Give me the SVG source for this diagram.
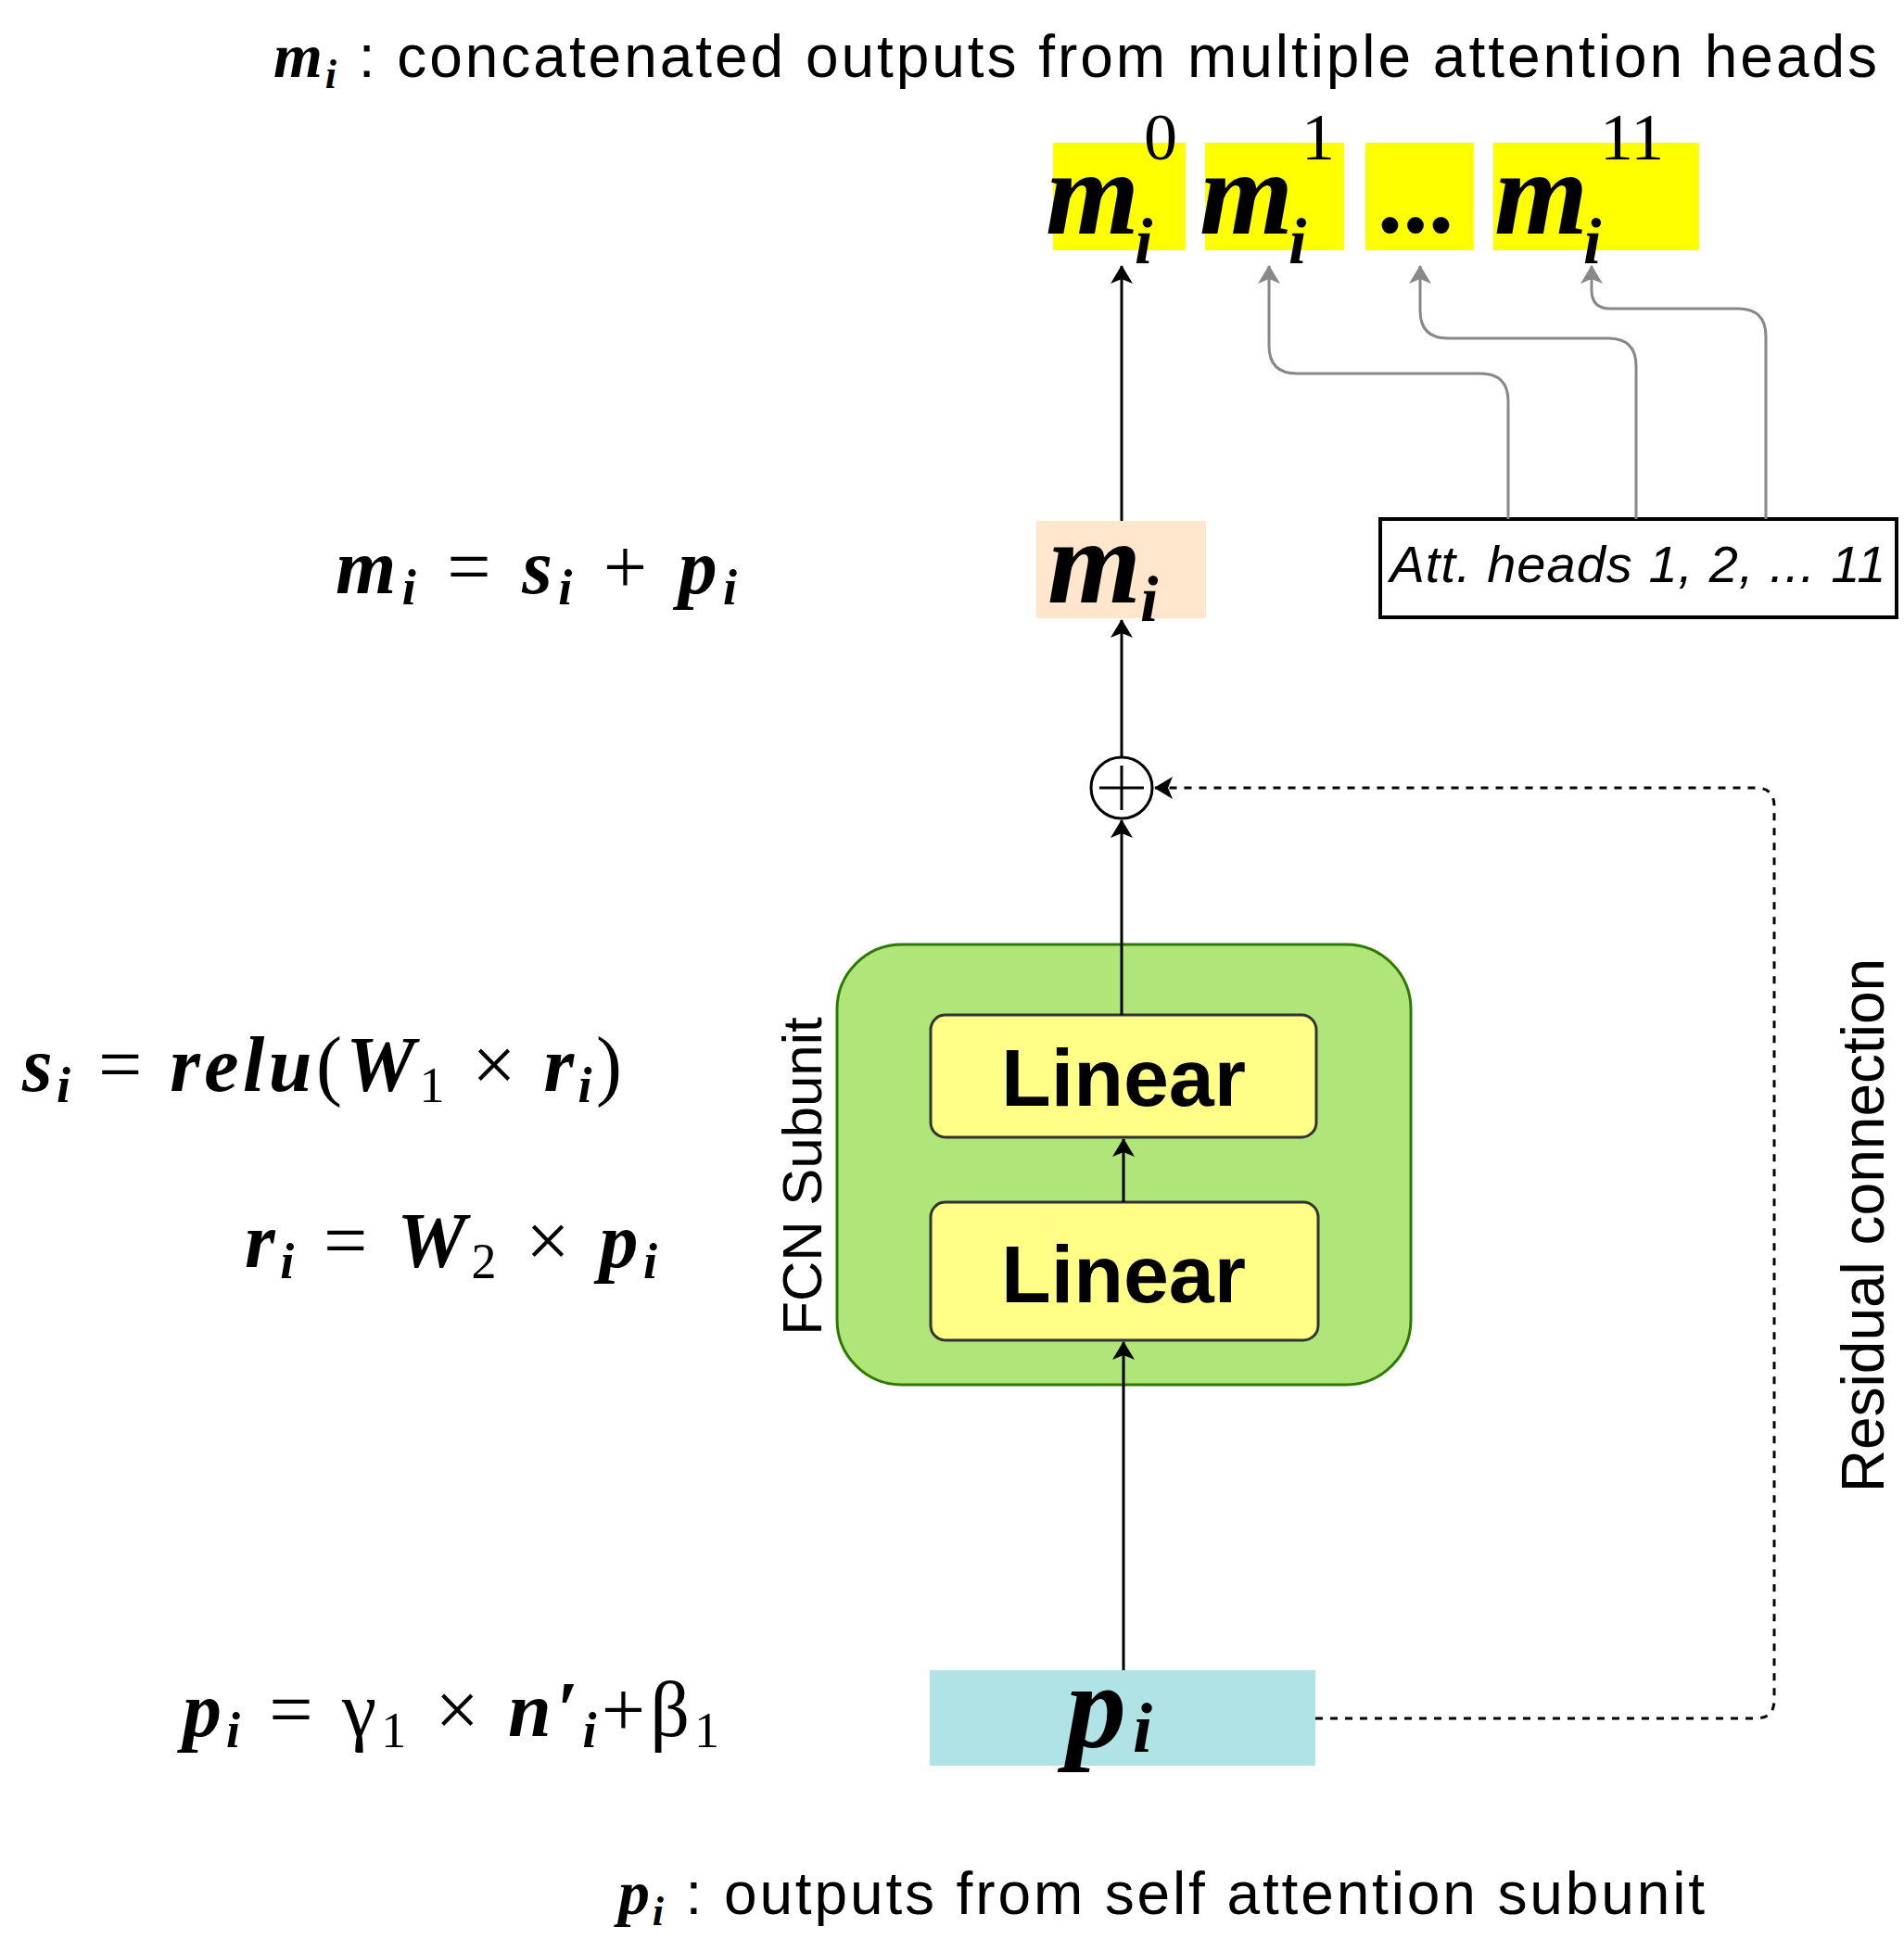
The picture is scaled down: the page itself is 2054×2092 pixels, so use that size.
<svg xmlns="http://www.w3.org/2000/svg" width="2054" height="2092" viewBox="0 0 2054 2092">
<style>
.m{font-family:"Liberation Serif",serif;font-style:italic;font-weight:bold;fill:#000}
.r{font-family:"Liberation Serif",serif;font-style:normal;font-weight:normal}
.s{font-family:"Liberation Sans",Arial,sans-serif;fill:#000}
.blk{stroke:#000;stroke-width:3;fill:none}
.gry{stroke:#888;stroke-width:3;fill:none}
</style>
<defs>
<marker id="ab" markerWidth="20" markerHeight="24" refX="19" refY="12" orient="auto" markerUnits="userSpaceOnUse" viewBox="0 0 20 24"><path d="M0,0 L20,12 L0,24 L5,12 Z" fill="#000"/></marker>
<marker id="ag" markerWidth="20" markerHeight="24" refX="19" refY="12" orient="auto" markerUnits="userSpaceOnUse" viewBox="0 0 20 24"><path d="M0,0 L20,12 L0,24 L5,12 Z" fill="#888"/></marker>
</defs>
<rect width="2054" height="2092" fill="#fff"/>
<g id="title"><text x="295" y="83" font-size="64" class="s" textLength="1730"><tspan class="m" font-size="68">m</tspan><tspan class="m" font-size="44" dy="12">i</tspan><tspan dy="-12"> : concatenated outputs from multiple attention heads</tspan></text></g>
<g id="m0"><rect x="1136" y="154" width="143" height="116" fill="#ffff00"/><text x="1128" y="252" font-size="130" class="m">m</text><text x="1224" y="284" font-size="70" class="m">i</text><text x="1234" y="172" font-size="72" class="m r">0</text></g>
<g id="m1"><rect x="1300" y="154" width="150" height="116" fill="#ffff00"/><text x="1294" y="252" font-size="130" class="m">m</text><text x="1390" y="284" font-size="70" class="m">i</text><text x="1404" y="172" font-size="72" class="m r">1</text></g>
<g id="mdots"><rect x="1473" y="154" width="117" height="116" fill="#ffff00"/><text x="1531" y="250" font-size="110" class="m" text-anchor="middle">...</text></g>
<g id="m11"><rect x="1611" y="154" width="222" height="116" fill="#ffff00"/><text x="1612" y="252" font-size="130" class="m">m</text><text x="1708" y="284" font-size="70" class="m">i</text><text x="1726" y="172" font-size="72" class="m r">11</text></g>
<g id="mi"><rect x="1118" y="562" width="183" height="105" fill="#ffe6cc"/><text x="1130" y="650" font-size="130" class="m">m</text><text x="1230" y="670" font-size="70" class="m">i</text></g>
<g id="att"><rect x="1489" y="560" width="557" height="106" fill="#fff" stroke="#000" stroke-width="4"/><text x="1767" y="628" font-size="56" class="s" font-style="italic" text-anchor="middle" textLength="535">Att. heads 1, 2, ... 11</text></g>
<g id="plus"><circle cx="1210" cy="850" r="33" fill="#fff" stroke="#000" stroke-width="3"/><path d="M1210,826 V874 M1186,850 H1234" stroke="#000" stroke-width="3"/></g>
<g id="fcn"><rect x="903" y="1019" width="619" height="475" rx="70" fill="#b0e57a" stroke="#2d7a00" stroke-width="3"/><text transform="translate(886,1269) rotate(-90)" font-size="60" class="s" text-anchor="middle">FCN Subunit</text></g>
<g id="lin1"><rect x="1004" y="1095" width="416" height="132" rx="16" fill="#ffff88" stroke="#333" stroke-width="3"/><text x="1212" y="1193" font-size="88" class="s" font-weight="bold" text-anchor="middle">Linear</text></g>
<g id="lin2"><rect x="1004" y="1297" width="418" height="149" rx="16" fill="#ffff88" stroke="#333" stroke-width="3"/><text x="1212" y="1405" font-size="88" class="s" font-weight="bold" text-anchor="middle">Linear</text></g>
<g id="pi"><rect x="1003" y="1802" width="416" height="103" fill="#b0e3e6"/><text x="1150" y="1884" font-size="130" class="m">p</text><text x="1222" y="1890" font-size="76" class="m">i</text></g>
<g id="residual"><text transform="translate(2032,1322) rotate(-90)" font-size="64" class="s" text-anchor="middle">Residual connection</text></g>
<g id="eqs" class="m">
<text x="362" y="640" font-size="84" textLength="433">m<tspan font-size="54" dy="12">i</tspan><tspan class="r" dy="-12"> = </tspan>s<tspan font-size="54" dy="12">i</tspan><tspan class="r" dy="-12"> + </tspan>p<tspan font-size="54" dy="12">i</tspan></text>
<text x="24" y="1177" font-size="84" textLength="647">s<tspan font-size="54" dy="12">i</tspan><tspan class="r" dy="-12"> = </tspan>relu<tspan class="r">(</tspan>W<tspan class="r" font-size="54" dy="12">1</tspan><tspan class="r" dy="-12"> × </tspan>r<tspan font-size="54" dy="12">i</tspan><tspan class="r" dy="-12">)</tspan></text>
<text x="264" y="1367" font-size="84" textLength="445">r<tspan font-size="54" dy="12">i</tspan><tspan class="r" dy="-12"> = </tspan>W<tspan class="r" font-size="54" dy="12">2</tspan><tspan class="r" dy="-12"> × </tspan>p<tspan font-size="54" dy="12">i</tspan></text>
<text x="197" y="1873" font-size="84" textLength="579">p<tspan font-size="54" dy="12">i</tspan><tspan class="r" dy="-12"> = </tspan><tspan class="r">γ</tspan><tspan class="r" font-size="54" dy="12">1</tspan><tspan class="r" dy="-12"> × </tspan>n′<tspan font-size="54" dy="12">i</tspan><tspan class="r" dy="-12">+β</tspan><tspan class="r" font-size="54" dy="12">1</tspan></text>
</g>
<g id="footer"><text x="667" y="2065" font-size="64" class="s" textLength="1172"><tspan class="m" font-size="68">p</tspan><tspan class="m" font-size="44" dy="12">i</tspan><tspan dy="-12"> : outputs from self attention subunit</tspan></text></g>
<g id="connectors">
<path class="blk" d="M1210,562 V287" marker-end="url(#ab)"/>
<path class="blk" d="M1210,817 V669" marker-end="url(#ab)"/>
<path class="blk" d="M1210,1095 V885" marker-end="url(#ab)"/>
<path class="blk" d="M1212,1297 V1229" marker-end="url(#ab)"/>
<path class="blk" d="M1212,1802 V1448" marker-end="url(#ab)"/>
<path class="blk" d="M1419,1854 H1894 Q1914,1854 1914,1834 V870 Q1914,850 1894,850 H1246" stroke-dasharray="8,8" marker-end="url(#ab)"/>
<path class="gry" d="M1627,560 V433 Q1627,403 1597,403 H1399 Q1369,403 1369,373 V287" marker-end="url(#ag)"/>
<path class="gry" d="M1765,560 V395 Q1765,365 1735,365 H1562 Q1532,365 1532,335 V287" marker-end="url(#ag)"/>
<path class="gry" d="M1905,560 V363 Q1905,333 1875,333 H1737 Q1717,333 1717,313 V287" marker-end="url(#ag)"/>
</g>
</svg>
